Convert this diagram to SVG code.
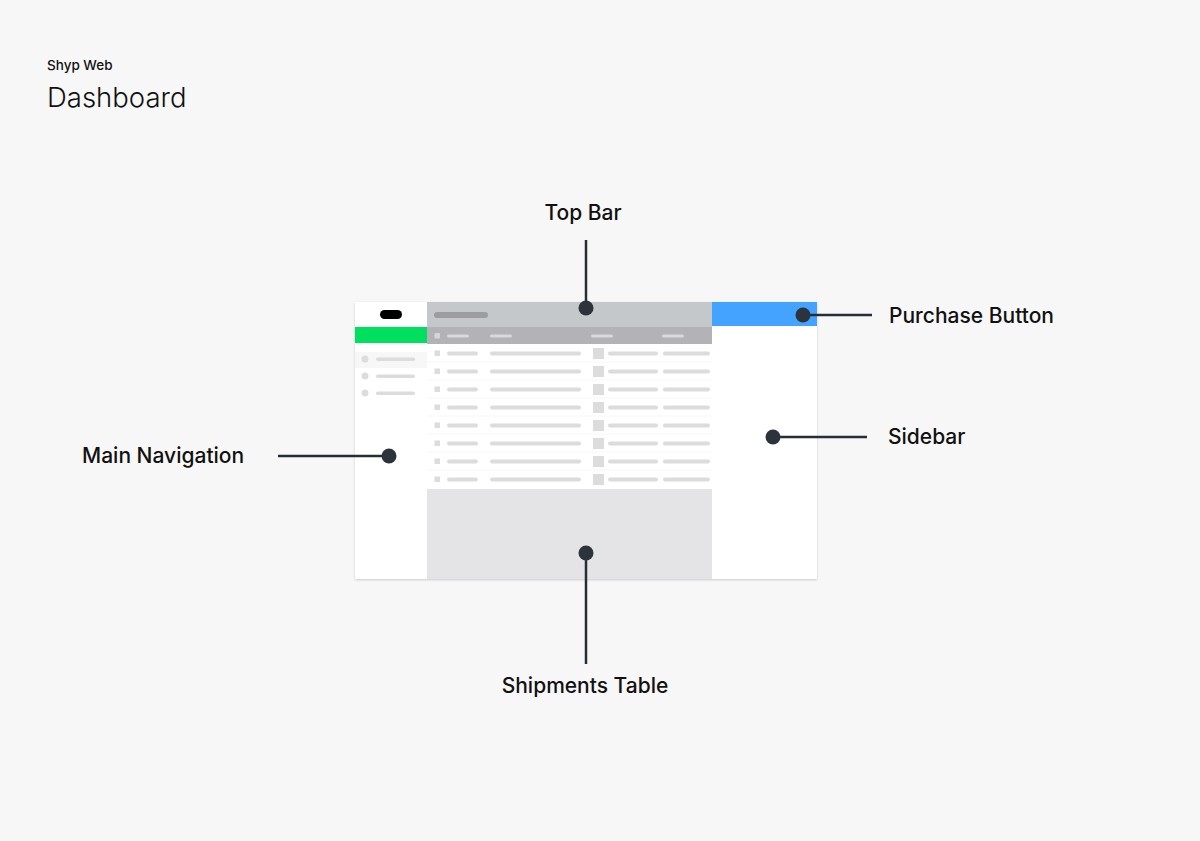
<svg xmlns="http://www.w3.org/2000/svg" width="1200" height="841" viewBox="0 0 1200 841">
<defs>
<style>
.lbl{font-family:Inter,"Liberation Sans",sans-serif;font-size:21px;font-weight:500;fill:#111}
.ln{fill:#dcdcdc}
.ck{fill:#dcdcdc}
.sep{stroke:#f7f7f7;stroke-width:1}
.conn line{stroke:#262d36;stroke-width:2.5}
.conn circle{fill:#2d333b}
</style>
<filter id="sh" x="-5%" y="-5%" width="110%" height="115%">
<feDropShadow dx="0" dy="1" stdDeviation="1.2" flood-color="#000" flood-opacity="0.18"/>
</filter>
</defs>
<rect width="1200" height="841" fill="#f7f7f7"/>
<text x="47" y="70" font-family="Inter,'Liberation Sans',sans-serif" font-size="13.5" font-weight="500" fill="#111">Shyp Web</text>
<text x="47" y="107" font-family="Inter,'Liberation Sans',sans-serif" font-size="27.5" font-weight="300" fill="#111">Dashboard</text>

<g id="mockup">
<rect x="355" y="302" width="462" height="277" fill="#fff" filter="url(#sh)"/>
<g id="main-navigation">
<rect x="355" y="302" width="72" height="25" fill="#fff"/>
<rect x="380" y="310" width="22" height="9" rx="4.5" fill="#000"/>
<rect x="355" y="327" width="72" height="16" fill="#00e05f"/>
<rect x="355" y="352" width="72" height="16" fill="#f7f7f7"/>
<circle cx="365" cy="359" r="3.5" fill="#dcdcdc"/>
<circle cx="365" cy="376" r="3.5" fill="#dcdcdc"/>
<circle cx="365" cy="393" r="3.5" fill="#dcdcdc"/>
<rect x="376" y="357.5" width="39" height="3.5" rx="1.75" class="ln"/>
<rect x="376" y="374.5" width="39" height="3.5" rx="1.75" class="ln"/>
<rect x="376" y="391.5" width="39" height="3.5" rx="1.75" class="ln"/>
</g>
<g id="top-bar">
<rect x="427" y="302" width="285" height="25" fill="#c5c8cb"/>
<rect x="434" y="312" width="54" height="6" rx="3" fill="#9b9da0"/>
</g>
<g id="purchase-button">
<rect x="712" y="302" width="105" height="24" fill="#44a3ff"/>
</g>
<g id="sidebar">
<rect x="712" y="326" width="105" height="253" fill="#fff"/>
</g>
<g id="shipments-table">
<rect x="427" y="327" width="285" height="17" fill="#b3b3b7"/>
<rect x="434.5" y="333" width="5.5" height="5.5" rx="1" fill="#d6d6d9"/>
<rect x="447" y="334.5" width="22" height="3" rx="1.5" fill="#d9d9dc"/>
<rect x="490" y="334.5" width="22" height="3" rx="1.5" fill="#d9d9dc"/>
<rect x="591" y="334.5" width="22" height="3" rx="1.5" fill="#d9d9dc"/>
<rect x="662" y="334.5" width="22" height="3" rx="1.5" fill="#d9d9dc"/>
<rect x="427" y="344" width="285" height="145" fill="#fff"/>
<g id="rows">
<g transform="translate(0,0)"><rect x="434.5" y="350.5" width="5.5" height="5.5" class="ck"/><rect x="447" y="351.5" width="31" height="4" rx="2" class="ln"/><rect x="490" y="351.5" width="91" height="4" rx="2" class="ln"/><rect x="593" y="348" width="11" height="11" class="ck"/><rect x="608" y="351.5" width="50" height="4" rx="2" class="ln"/><rect x="663" y="351.5" width="47" height="4" rx="2" class="ln"/><line x1="427" y1="362" x2="712" y2="362" class="sep"/></g>
<g transform="translate(0,18)"><rect x="434.5" y="350.5" width="5.5" height="5.5" class="ck"/><rect x="447" y="351.5" width="31" height="4" rx="2" class="ln"/><rect x="490" y="351.5" width="91" height="4" rx="2" class="ln"/><rect x="593" y="348" width="11" height="11" class="ck"/><rect x="608" y="351.5" width="50" height="4" rx="2" class="ln"/><rect x="663" y="351.5" width="47" height="4" rx="2" class="ln"/><line x1="427" y1="362" x2="712" y2="362" class="sep"/></g>
<g transform="translate(0,36)"><rect x="434.5" y="350.5" width="5.5" height="5.5" class="ck"/><rect x="447" y="351.5" width="31" height="4" rx="2" class="ln"/><rect x="490" y="351.5" width="91" height="4" rx="2" class="ln"/><rect x="593" y="348" width="11" height="11" class="ck"/><rect x="608" y="351.5" width="50" height="4" rx="2" class="ln"/><rect x="663" y="351.5" width="47" height="4" rx="2" class="ln"/><line x1="427" y1="362" x2="712" y2="362" class="sep"/></g>
<g transform="translate(0,54)"><rect x="434.5" y="350.5" width="5.5" height="5.5" class="ck"/><rect x="447" y="351.5" width="31" height="4" rx="2" class="ln"/><rect x="490" y="351.5" width="91" height="4" rx="2" class="ln"/><rect x="593" y="348" width="11" height="11" class="ck"/><rect x="608" y="351.5" width="50" height="4" rx="2" class="ln"/><rect x="663" y="351.5" width="47" height="4" rx="2" class="ln"/><line x1="427" y1="362" x2="712" y2="362" class="sep"/></g>
<g transform="translate(0,72)"><rect x="434.5" y="350.5" width="5.5" height="5.5" class="ck"/><rect x="447" y="351.5" width="31" height="4" rx="2" class="ln"/><rect x="490" y="351.5" width="91" height="4" rx="2" class="ln"/><rect x="593" y="348" width="11" height="11" class="ck"/><rect x="608" y="351.5" width="50" height="4" rx="2" class="ln"/><rect x="663" y="351.5" width="47" height="4" rx="2" class="ln"/><line x1="427" y1="362" x2="712" y2="362" class="sep"/></g>
<g transform="translate(0,90)"><rect x="434.5" y="350.5" width="5.5" height="5.5" class="ck"/><rect x="447" y="351.5" width="31" height="4" rx="2" class="ln"/><rect x="490" y="351.5" width="91" height="4" rx="2" class="ln"/><rect x="593" y="348" width="11" height="11" class="ck"/><rect x="608" y="351.5" width="50" height="4" rx="2" class="ln"/><rect x="663" y="351.5" width="47" height="4" rx="2" class="ln"/><line x1="427" y1="362" x2="712" y2="362" class="sep"/></g>
<g transform="translate(0,108)"><rect x="434.5" y="350.5" width="5.5" height="5.5" class="ck"/><rect x="447" y="351.5" width="31" height="4" rx="2" class="ln"/><rect x="490" y="351.5" width="91" height="4" rx="2" class="ln"/><rect x="593" y="348" width="11" height="11" class="ck"/><rect x="608" y="351.5" width="50" height="4" rx="2" class="ln"/><rect x="663" y="351.5" width="47" height="4" rx="2" class="ln"/><line x1="427" y1="362" x2="712" y2="362" class="sep"/></g>
<g transform="translate(0,126)"><rect x="434.5" y="350.5" width="5.5" height="5.5" class="ck"/><rect x="447" y="351.5" width="31" height="4" rx="2" class="ln"/><rect x="490" y="351.5" width="91" height="4" rx="2" class="ln"/><rect x="593" y="348" width="11" height="11" class="ck"/><rect x="608" y="351.5" width="50" height="4" rx="2" class="ln"/><rect x="663" y="351.5" width="47" height="4" rx="2" class="ln"/></g>
</g>
<rect x="427" y="489" width="285" height="90" fill="#e4e4e6"/>
</g>
</g>

<g id="connectors" class="conn">
<line x1="586" y1="240" x2="586" y2="308"/>
<circle cx="586" cy="308" r="7.5"/>
<line x1="803" y1="315" x2="872" y2="315"/>
<circle cx="803" cy="315" r="7.5"/>
<line x1="773" y1="437" x2="867" y2="437"/>
<circle cx="773" cy="437" r="7.5"/>
<line x1="278" y1="456" x2="389" y2="456"/>
<circle cx="389" cy="456" r="7.5"/>
<line x1="586" y1="553" x2="586" y2="664"/>
<circle cx="586" cy="553" r="7.5"/>
</g>

<g id="label-top-bar"><text x="583" y="220" text-anchor="middle" class="lbl">Top Bar</text></g>
<g id="label-purchase-button"><text x="889" y="323" class="lbl">Purchase Button</text></g>
<g id="label-sidebar"><text x="888" y="444" class="lbl">Sidebar</text></g>
<g id="label-main-navigation"><text x="82" y="463" class="lbl">Main Navigation</text></g>
<g id="label-shipments-table"><text x="585" y="693" text-anchor="middle" class="lbl">Shipments Table</text></g>
</svg>
